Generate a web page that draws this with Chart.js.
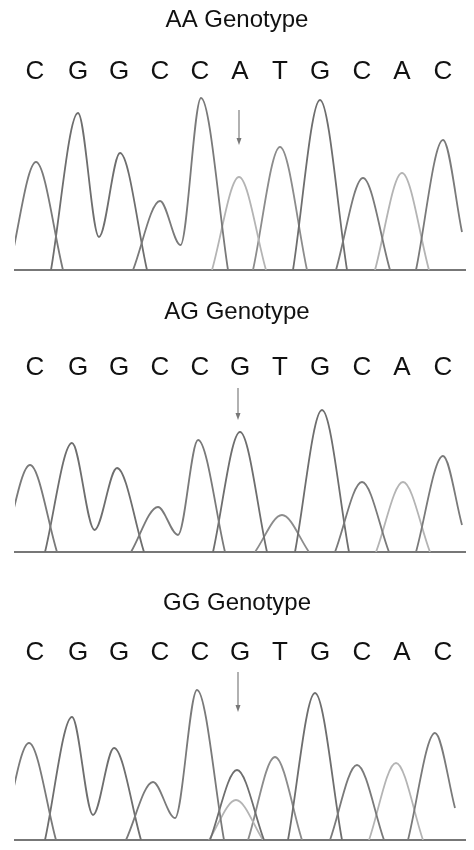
<!DOCTYPE html>
<html>
<head>
<meta charset="utf-8">
<script src="https://cdn.jsdelivr.net/npm/chart.js@4"></script>
<style>
  body { margin: 0; background: #fff; }
  #wrap { position: relative; width: 474px; height: 850px; }
  .panel { position: absolute; left: 0; width: 474px; }
</style>
</head>
<body>
<div id="wrap">
  <div class="panel" style="top:0;height:285px"><canvas id="c1"></canvas></div>
  <div class="panel" style="top:285px;height:285px"><canvas id="c2"></canvas></div>
  <div class="panel" style="top:570px;height:280px"><canvas id="c3"></canvas></div>
</div>
<script>
'use strict';

// подписи панелей и последовательность
const titles = ['AA Genotype', 'AG Genotype', 'GG Genotype'];
const seqAA = ['C', 'G', 'G', 'C', 'C', 'A', 'T', 'G', 'C', 'A', 'C'];
const seqAG = ['C', 'G', 'G', 'C', 'C', 'G', 'T', 'G', 'C', 'A', 'C'];
const seqGG = ['C', 'G', 'G', 'C', 'C', 'G', 'T', 'G', 'C', 'A', 'C'];
const letterX = [35, 78, 119, 160, 200, 240, 280, 320, 362, 402, 443];

// пики: основание, положение, высота
const basesAA = ['C', 'G', 'G', 'C', 'C', 'A', 'T', 'G', 'C', 'A', 'C'];
const peakXAA = [36, 78, 120, 160, 201, 239, 280, 320, 363, 402, 443];
const peakHAA = [108, 157, 117, 69, 172, 93, 123, 170, 92, 97, 130];
const valleyAA = { 1: 33, 3: 25 };

const basesAG = ['C', 'G', 'G', 'C', 'C', 'G', 'T', 'G', 'C', 'A', 'C'];
const peakXAG = [30, 72, 117, 158, 198, 240, 282, 322, 362, 403, 443];
const peakHAG = [87, 109, 84, 45, 112, 120, 37, 142, 70, 70, 96];
const valleyAG = { 1: 22, 3: 17 };

const basesGG = ['C', 'G', 'G', 'C', 'C', 'G', 'A', 'T', 'G', 'C', 'A', 'C'];
const peakXGG = [29, 72, 114, 153, 197, 237, 236, 275, 315, 357, 396, 435];
const peakHGG = [97, 123, 92, 58, 150, 70, 40, 83, 147, 75, 77, 107];
const valleyGG = { 1: 25, 3: 22 };

// конец последнего пика обрезан справа
const tailAA = [462, 38];
const tailAG = [462, 27];
const tailGG = [455, 32];

const traceColors = { C: '#7a7a7a', G: '#6e6e6e', T: '#8c8c8c', A: '#b4b4b4' };
const halfWidth = 27;

/** Собирает точки кривых по основаниям из списка пиков */
function buildTraces(bases, xs, hs, valleys, tail) {
    let traces = {};
    let last = {};
    for (let i = 0; i < bases.length; i++) {
        let b = bases[i];
        if (!traces[b]) traces[b] = [];
        let pts = traces[b];
        if (last[b] === i - 1 && valleys[i - 1] !== undefined) {
            // соседние пики одного основания — соединяем через впадину
            pts.pop();
            pts.push({ x: (xs[i - 1] + xs[i]) / 2, y: valleys[i - 1] });
        } else {
            if (pts.length) pts.push({ x: null, y: null });
            pts.push({ x: xs[i] - halfWidth, y: 0 });
        }
        pts.push({ x: xs[i], y: hs[i] });
        if (i === bases.length - 1) pts.push({ x: tail[0], y: tail[1] });
        else pts.push({ x: xs[i] + halfWidth, y: 0 });
        last[b] = i;
    }
    return Object.keys(traces).map((b) => ({
        data: traces[b],
        borderColor: traceColors[b],
        borderWidth: 1.8,
        pointRadius: 0,
        cubicInterpolationMode: 'monotone',
        spanGaps: false,
        fill: false,
    }));
}

/** Подписи: заголовок, буквы последовательности, стрелка */
function headerPlugin(title, seq, titleY, lettersY, arrow) {
    return {
        id: 'header',
        afterDraw(chart) {
            let ctx = chart.ctx;
            let x = chart.scales.x;
            ctx.save();
            ctx.fillStyle = '#111';
            ctx.textAlign = 'center';
            ctx.textBaseline = 'middle';
            ctx.font = '24px "Liberation Sans", Arial, sans-serif';
            ctx.fillText(title, 237, titleY);
            ctx.font = '26px "Liberation Sans", Arial, sans-serif';
            seq.forEach((s, i) => ctx.fillText(s, x.getPixelForValue(letterX[i]), lettersY));
            // стрелка над исследуемой позицией
            let ax = x.getPixelForValue(arrow[0]);
            ctx.strokeStyle = '#888';
            ctx.fillStyle = '#777';
            ctx.lineWidth = 1.3;
            ctx.beginPath();
            ctx.moveTo(ax, arrow[1]);
            ctx.lineTo(ax, arrow[2] - 5);
            ctx.stroke();
            ctx.beginPath();
            ctx.moveTo(ax - 2.5, arrow[2] - 7);
            ctx.lineTo(ax + 2.5, arrow[2] - 7);
            ctx.lineTo(ax, arrow[2]);
            ctx.fill();
            ctx.restore();
        },
    };
}

function makeChart(id, title, seq, traces, pad, titleY, lettersY, arrow) {
    let ctx = document.getElementById(id).getContext('2d');
    return new Chart(ctx, {
        type: 'line',
        data: { datasets: traces },
        options: {
            responsive: true,
            maintainAspectRatio: false,
            animation: false,
            layout: { padding: { left: 15, right: 9, top: pad[0], bottom: pad[1] } },
            plugins: { legend: { display: false }, tooltip: { enabled: false } },
            scales: {
                x: {
                    type: 'linear', min: 15, max: 465,
                    grid: { display: false, drawTicks: false },
                    border: { display: true, color: '#777', width: 2 },
                    ticks: { display: false },
                },
                y: {
                    min: 0, max: 180, display: false,
                },
            },
        },
        plugins: [headerPlugin(title, seq, titleY, lettersY, arrow)],
    });
}

makeChart('c1', titles[0], seqAA, buildTraces(basesAA, peakXAA, peakHAA, valleyAA, tailAA),
    [90, 15], 20, 72, [239, 110, 145]);
makeChart('c2', titles[1], seqAG, buildTraces(basesAG, peakXAG, peakHAG, valleyAG, tailAG),
    [87, 18], 27, 83, [238, 103, 135]);
makeChart('c3', titles[2], seqGG, buildTraces(basesGG, peakXGG, peakHGG, valleyGG, tailGG),
    [90, 10], 33, 83, [238, 102, 142]);
</script>
</body>
</html>
